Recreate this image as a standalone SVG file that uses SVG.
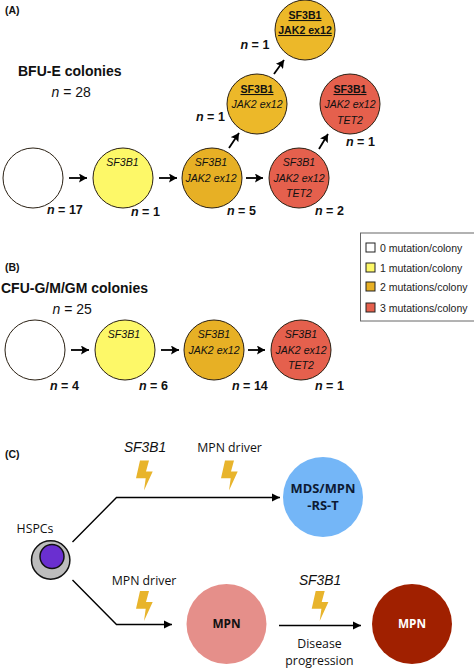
<svg xmlns="http://www.w3.org/2000/svg" width="474" height="668" viewBox="0 0 474 668">
<style>
text{font-family:"Liberation Sans",Arial,sans-serif;fill:#111}
.c{stroke:#2a2013;stroke-width:1}
.w{fill:#fff}.y{fill:#fdf868}.o{fill:#e7b025}.g{fill:#ecb829}.r{fill:#e5604d}
.m{font-size:10.6px;font-style:italic;text-anchor:middle}
.u{font-size:10.6px;font-weight:bold;text-anchor:middle;text-decoration:underline}
.n{font-size:12.5px;font-weight:bold}
.n tspan{font-style:italic}
.h{font-size:10.5px;font-weight:bold}
.t{font-size:14px;font-weight:bold}
.k{font-size:14px}
.l{font-size:10.5px;fill:#222}
.s{stroke:#222;stroke-width:1}
.e{font-family:"Open Sans",sans-serif;font-size:12.3px;fill:#111;text-anchor:middle}
.b{font-family:"Open Sans",sans-serif;font-size:11.8px;font-weight:bold;text-anchor:middle}
.d{font-family:"Open Sans",sans-serif;font-size:12.9px;font-weight:bold;text-anchor:middle;fill:#0d1a33}
.i{font-size:13.8px;font-style:italic;text-anchor:middle}
.a{stroke:#000;stroke-width:1.8;fill:none}
.f{stroke:#000;stroke-width:1.4;fill:none}
.z{fill:#e8b42c}
</style>
<defs>
<marker id="ah" markerUnits="userSpaceOnUse" markerWidth="9" markerHeight="9" refX="8" refY="4.5" orient="auto"><path d="M0 0L8 4.5L0 9L1.5 4.5Z" fill="#000"/></marker>
<marker id="ac" markerUnits="userSpaceOnUse" markerWidth="9" markerHeight="9" refX="8" refY="4.500" orient="auto"><path d="M0 .5L8 4.500L0 8.500Z" fill="#000"/></marker>
<polygon id="bolt" points="4,0 13,0 10,11 16.700,11 8,30 9.700,17.700 0,17.700"/>
</defs>

<text x="5" y="13.500" class="h">(A)</text>
<text x="18" y="76" class="t">BFU-E colonies</text>
<text x="51.500" y="97" class="k"><tspan font-style="italic">n</tspan> = 28</text>

<g id="connectors">
<path class="a" marker-end="url(#ah)" d="M69 178H87"/>
<path class="a" marker-end="url(#ah)" d="M159 178H177"/>
<path class="a" marker-end="url(#ah)" d="M246 178H263"/>
<path class="a" marker-end="url(#ah)" d="M229 148L239 133"/>
<path class="a" marker-end="url(#ah)" d="M274 74L284 60"/>
<path class="a" marker-end="url(#ah)" d="M319 149L328 134"/>
<path class="a" marker-end="url(#ah)" d="M71 350H89"/>
<path class="a" marker-end="url(#ah)" d="M161 350H179"/>
<path class="a" marker-end="url(#ah)" d="M248 350H265"/>
<path class="f" marker-end="url(#ac)" d="M72.500 542L116.500 497.500H280"/>
<path class="f" marker-end="url(#ac)" d="M72.500 580L116.500 624.500H172"/>
<path class="f" marker-end="url(#ac)" d="M279 625.500H361"/>
</g>

<g id="a0"><circle class="c w" cx="33" cy="178" r="30"/></g>
<g id="a1"><circle class="c y" cx="123" cy="178" r="30"/><text class="m" x="122.500" y="166">SF3B1</text></g>
<g id="a2"><circle class="c o" cx="212" cy="178" r="30"/><text class="m" x="211" y="166">SF3B1</text><text class="m" x="211" y="182">JAK2 ex12</text></g>
<g id="a3"><circle class="c r" cx="299" cy="178" r="30"/><text class="m" x="299" y="166">SF3B1</text><text class="m" x="299" y="182">JAK2 ex12</text><text class="m" x="299" y="197">TET2</text></g>
<g id="a4"><circle class="c g" cx="257" cy="104" r="30"/><text class="u" x="257" y="93">SF3B1</text><text class="m" x="257" y="108">JAK2 ex12</text></g>
<g id="a5"><circle class="c g" cx="305" cy="30" r="30"/><text class="u" x="305" y="19">SF3B1</text><text class="u" x="305" y="34">JAK2 ex12</text></g>
<g id="a6"><circle class="c r" cx="350" cy="104" r="30"/><text class="u" x="350" y="93">SF3B1</text><text class="m" x="350" y="108">JAK2 ex12</text><text class="m" x="350" y="124">TET2</text></g>

<text class="n" x="47" y="214"><tspan>n</tspan> = 17</text>
<text class="n" x="131" y="216"><tspan>n</tspan> = 1</text>
<text class="n" x="227" y="214.500"><tspan>n</tspan> = 5</text>
<text class="n" x="315" y="214.500"><tspan>n</tspan> = 2</text>
<text class="n" x="346" y="145.500"><tspan>n</tspan> = 1</text>
<text class="n" x="196" y="120.500"><tspan>n</tspan> = 1</text>
<text class="n" x="240.500" y="48.500"><tspan>n</tspan> = 1</text>

<text x="5" y="271" class="h">(B)</text>
<text x="1" y="292.500" class="t">CFU-G/M/GM colonies</text>
<text x="52.500" y="314" class="k"><tspan font-style="italic">n</tspan>  = 25</text>
<g id="b0"><circle class="c w" cx="35" cy="350" r="30"/></g>
<g id="b1"><circle class="c y" cx="125" cy="350" r="30"/><text class="m" x="124" y="338">SF3B1</text></g>
<g id="b2"><circle class="c o" cx="214" cy="350" r="30"/><text class="m" x="214" y="338">SF3B1</text><text class="m" x="214" y="354">JAK2 ex12</text></g>
<g id="b3"><circle class="c r" cx="301" cy="350" r="30"/><text class="m" x="301" y="338">SF3B1</text><text class="m" x="301" y="354">JAK2 ex12</text><text class="m" x="301" y="369">TET2</text></g>
<text class="n" x="50" y="390"><tspan>n</tspan> = 4</text>
<text class="n" x="139" y="390"><tspan>n</tspan> = 6</text>
<text class="n" x="232" y="390"><tspan>n</tspan> = 14</text>
<text class="n" x="315" y="390"><tspan>n</tspan> = 1</text>

<g id="legend">
<rect x="360.500" y="233" width="116" height="88" fill="#fff" stroke="#666" stroke-width="1"/>
<rect class="s w" x="366" y="243" width="9" height="9"/><text class="l" x="380" y="251.500">0 mutation/colony</text>
<rect class="s y" x="366" y="263" width="9" height="9"/><text class="l" x="380" y="271.500">1 mutation/colony</text>
<rect class="s o" x="366" y="282" width="9" height="9"/><text class="l" x="380" y="291">2 mutations/colony</text>
<rect class="s r" x="366" y="303" width="9" height="9"/><text class="l" x="380" y="311.500">3 mutations/colony</text>
</g>

<text x="5" y="458" class="h">(C)</text>
<text class="i" x="145" y="452">SF3B1</text>
<text class="e" x="229.500" y="452">MPN driver</text>
<use href="#bolt" class="z" x="136" y="460.500"/>
<use href="#bolt" class="z" x="221" y="460.500"/>
<text class="e" x="35" y="533">HSPCs</text>
<g id="hspc"><circle cx="50.700" cy="560" r="19.200" fill="#bdbdbd" stroke="#111" stroke-width="1.500"/><circle cx="52" cy="556.500" r="12" fill="#6a2fd0" stroke="#111" stroke-width="1.500"/></g>
<text class="e" x="144" y="585">MPN driver</text>
<use href="#bolt" class="z" x="136" y="591"/>
<text class="i" x="320" y="585">SF3B1</text>
<use href="#bolt" class="z" x="311.700" y="591"/>
<g id="rst"><circle cx="323" cy="497" r="40" fill="#74b6f7"/><text class="d" x="323" y="493">MDS/MPN</text><text class="d" x="323" y="510">-RS-T</text></g>
<g id="mpn1"><circle cx="226.500" cy="624" r="40" fill="#e58f8a"/><text class="b" x="226.500" y="628">MPN</text></g>
<g id="mpn2"><circle cx="412" cy="624" r="40" fill="#a02000"/><text class="b" x="412" y="628" style="fill:#fff">MPN</text></g>
<text class="e" x="319.500" y="648">Disease</text>
<text class="e" x="319.500" y="665">progression</text>
</svg>
